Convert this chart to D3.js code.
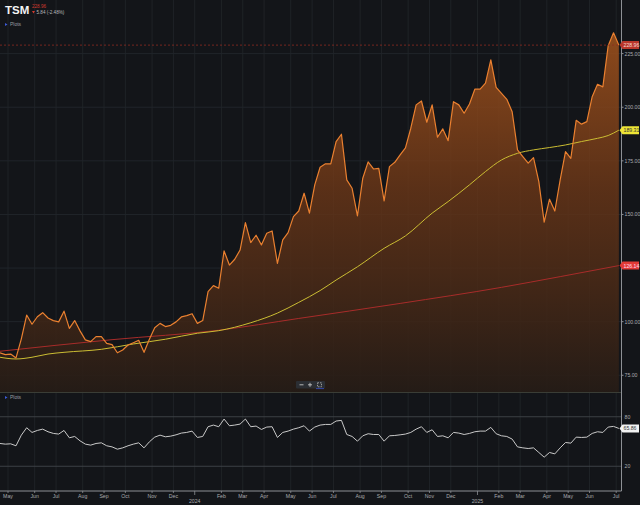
<!DOCTYPE html>
<html><head><meta charset="utf-8">
<script src="https://cdn.jsdelivr.net/npm/d3@7"></script>
<style>html,body{margin:0;padding:0;background:#131519;overflow:hidden}svg{display:block}</style>
</head><body><svg id="c" width="640" height="505"></svg>
<script>
// ---- data (weekly, week 0 = 2023-04-17) ----
const price = [85.5,84.6,84.9,83.1,92.0,103.1,98.8,102.3,104.2,101.7,100.5,99.9,104.9,96.9,100.5,95.7,91.5,90.7,93.0,93.0,
89.9,89.3,85.5,86.8,89.1,90.2,91.3,85.7,91.8,97.2,99.2,97.7,98.3,99.9,102.2,102.8,103.7,99.2,100.5,114.0,
116.8,115.6,133.0,126.4,129.1,133.4,146.2,136.9,140.3,135.8,141.2,142.3,127.2,138.1,141.5,149.0,151.6,159.9,150.6,163.8,
172.0,173.6,173.6,184.0,187.4,166.1,162.2,149.3,166.9,174.5,171.2,171.5,156.3,172.3,174.3,177.8,181.0,190.2,201.1,202.9,
193.0,201.1,186.0,189.9,184.4,202.6,201.1,197.2,201.5,208.4,208.4,211.2,222.1,209.3,206.5,203.7,197.9,180.1,177.0,173.9,
176.5,165.3,146.4,157.1,151.6,166.1,179.3,176.2,193.9,192.1,193.3,204.9,210.7,209.5,228.7,234.7,228.96];
const maFastWeeks = [0,3,6,9,12,19,25,31,37,41,47,52,56,60,63,67,72,76,81,84,88,91,94,97,100,103,106,109,112,114,116];
const maFast = [83.4,82.6,83.4,84.9,85.7,87.1,89.6,91.8,94.6,95.8,99.5,104,109,114.5,119.4,125.6,134.2,140,150.6,156,163.8,170,175.4,178.5,180.1,181.2,182.4,184,185.5,186.8,189.31];
const maSlowWeeks = [0,21,41,56,75,94,105,116];
const maSlow = [86.2,91.6,96.0,101.5,108.5,116,121,126.14];
const rsi = [47.6,46.8,47.2,44.8,57.7,66.7,61.0,63.4,65.0,61.8,59.8,59.0,63.4,54.5,56.1,50.8,46.8,45.6,47.6,48.4,
44.8,43.5,40.7,42.3,44.8,46.8,48.4,42.3,49.6,55.3,57.7,55.7,56.5,58.1,60.2,61.0,62.6,54.9,56.1,67.9,
69.9,67.9,77.2,69.1,69.9,71.1,77.2,67.9,68.7,64.6,67.5,67.9,54.9,61.0,62.6,65.0,66.7,69.1,62.6,67.5,
69.9,70.7,70.7,74.8,75.6,58.5,56.1,50.4,56.9,59.4,58.5,58.5,50.4,56.9,57.3,58.1,59.0,61.0,65.0,67.9,
61.0,64.2,56.1,56.9,54.5,61.0,60.2,58.5,59.8,61.8,62.6,62.6,67.1,59.4,56.9,56.1,52.9,43.5,42.3,41.5,
42.3,36.7,31.0,36.7,35.0,42.3,48.8,48.0,55.3,54.9,55.3,59.8,61.8,61.0,67.5,68.3,65.86];
const tickWeeks = [2,7,11,16,20,24,29,33,37,42,46,50,55,59,63,68,72,77,81,85,90,94,98,103,107,111,116];
const tickLabels = ["May","Jun","Jul","Aug","Sep","Oct","Nov","Dec","2024","Feb","Mar","Apr","May","Jun","Jul","Aug","Sep","Oct","Nov","Dec","2025","Feb","Mar","Apr","May","Jun","Jul"];
const priceTicks = [75,100,125,150,175,200,225];
const rsiTicks = [20,80];
const symbol = "TSM", lastText = "228.96", changeText = "5.84 (-2.48%)";

// ---- layout ----
const svg = d3.select("#c");
const axisX = 621.5, mainTop = 0, mainBot = 392, rsiTop = 392, rsiBot = 491;
const x = d3.scaleLinear().domain([0, 116]).range([0, 116 * 5.335]);
const y = d3.scaleLinear().domain([67.2, 250]).range([mainBot, mainTop]);
const yr = d3.scaleLinear().domain([-10, 110]).range([rsiBot, rsiTop]);
const font = "'Liberation Sans', Arial, sans-serif";

const defs = svg.append("defs");
const grad = defs.append("linearGradient").attr("id", "fill").attr("gradientUnits", "userSpaceOnUse")
  .attr("x1", 0).attr("x2", 0).attr("y1", 30).attr("y2", mainBot);
grad.append("stop").attr("offset", 0).attr("stop-color", "#a3531c").attr("stop-opacity", 0.85);
grad.append("stop").attr("offset", 0.45).attr("stop-color", "#6a3617").attr("stop-opacity", 0.8);
grad.append("stop").attr("offset", 1).attr("stop-color", "#261c16").attr("stop-opacity", 0.9);
defs.append("clipPath").attr("id", "mainClip").append("rect").attr("x", 0).attr("y", mainTop).attr("width", axisX).attr("height", mainBot - mainTop);
defs.append("clipPath").attr("id", "rsiClip").append("rect").attr("x", 0).attr("y", rsiTop).attr("width", axisX).attr("height", rsiBot - rsiTop);

// vertical month grid
svg.append("g").selectAll("line").data(tickWeeks).join("line")
  .attr("x1", d => x(d - 0.5)).attr("x2", d => x(d - 0.5)).attr("y1", 0).attr("y2", rsiBot)
  .attr("stroke", "#1f2327").attr("stroke-width", 1);
// horizontal price grid
svg.append("g").selectAll("line").data(priceTicks).join("line")
  .attr("x1", 0).attr("x2", axisX).attr("y1", d => y(d)).attr("y2", d => y(d))
  .attr("stroke", "#20252a").attr("stroke-width", 1);

// price area + line
const mg = svg.append("g").attr("clip-path", "url(#mainClip)");
mg.append("path").datum(price)
  .attr("d", d3.area().x((d, i) => x(i)).y0(mainBot).y1(d => y(d)))
  .attr("fill", "url(#fill)");
mg.append("path").datum(maSlow)
  .attr("d", d3.line().x((d, i) => x(maSlowWeeks[i])).y(d => y(d)).curve(d3.curveMonotoneX))
  .attr("fill", "none").attr("stroke", "#a82c2a").attr("stroke-width", 1);
mg.append("path").datum(maFast)
  .attr("d", d3.line().x((d, i) => x(maFastWeeks[i])).y(d => y(d)).curve(d3.curveMonotoneX))
  .attr("fill", "none").attr("stroke", "#cbbd33").attr("stroke-width", 1);
mg.append("path").datum(price)
  .attr("d", d3.line().x((d, i) => x(i)).y(d => y(d)))
  .attr("fill", "none").attr("stroke", "#ea8030").attr("stroke-width", 1.2).attr("stroke-linejoin", "round");
// last price dashed line
svg.append("line").attr("x1", 0).attr("x2", axisX).attr("y1", y(price[price.length - 1])).attr("y2", y(price[price.length - 1]))
  .attr("stroke", "#8e2c22").attr("stroke-width", 0.8).attr("stroke-dasharray", "2,2");

// panel separator
svg.append("line").attr("x1", 0).attr("x2", axisX).attr("y1", mainBot + 0.5).attr("y2", mainBot + 0.5)
  .attr("stroke", "#3a3d36").attr("stroke-width", 1);

// rsi grid
svg.append("g").selectAll("line").data(rsiTicks).join("line")
  .attr("x1", 0).attr("x2", axisX).attr("y1", d => yr(d)).attr("y2", d => yr(d))
  .attr("stroke", "#3c4045").attr("stroke-width", 1);
svg.append("g").attr("clip-path", "url(#rsiClip)").append("path").datum(rsi)
  .attr("d", d3.line().x((d, i) => x(i)).y(d => yr(d)))
  .attr("fill", "none").attr("stroke", "#c9c9c9").attr("stroke-width", 1);

// axes lines
svg.append("line").attr("x1", axisX).attr("x2", axisX).attr("y1", 0).attr("y2", rsiBot)
  .attr("stroke", "#8d9095").attr("stroke-width", 1);
svg.append("line").attr("x1", 0).attr("x2", axisX).attr("y1", rsiBot).attr("y2", rsiBot)
  .attr("stroke", "#8d9095").attr("stroke-width", 1);

// value tags positions (axis labels hidden where a tag covers them)
const tagYs = [y(price[price.length - 1]), y(maFast[maFast.length - 1]), y(maSlow[maSlow.length - 1])];
const shownTicks = priceTicks.filter(t => tagYs.every(ty => Math.abs(y(t) - ty) > 6));

// right price axis labels
svg.append("g").selectAll("text").data(shownTicks).join("text")
  .attr("x", axisX + 3).attr("y", d => y(d) + 2).text(d => d3.format(".2f")(d))
  .attr("fill", "#a9abae").attr("font-size", 5.2).attr("font-family", font);
svg.append("g").selectAll("line").data(priceTicks).join("line")
  .attr("x1", axisX).attr("x2", axisX + 2).attr("y1", d => y(d)).attr("y2", d => y(d)).attr("stroke", "#8d9095");
svg.append("g").selectAll("text").data(rsiTicks).join("text")
  .attr("x", axisX + 3).attr("y", d => yr(d) + 2).text(d => d)
  .attr("fill", "#a9abae").attr("font-size", 5.2).attr("font-family", font);

// x axis labels
const xa = svg.append("g");
tickWeeks.forEach((w, i) => {
  const lbl = tickLabels[i];
  const isYear = /^\d{4}$/.test(lbl);
  xa.append("line").attr("x1", x(w - 0.5)).attr("x2", x(w - 0.5)).attr("y1", rsiBot).attr("y2", rsiBot + (isYear ? 4 : 2))
    .attr("stroke", "#8d9095").attr("stroke-width", 0.8);
  xa.append("text").attr("x", x(w - 0.5)).attr("y", isYear ? 503 : 497.5).attr("text-anchor", "middle")
    .text(lbl).attr("fill", "#a9abae").attr("font-size", 5.2).attr("font-family", font);
});

// value tags
function tag(v, yy, bg, fg) {
  const g = svg.append("g");
  const h = 8, x0 = axisX - 2;
  g.append("path").attr("d", `M${x0},${yy} L${x0 + 3},${yy - h / 2} L639,${yy - h / 2} L639,${yy + h / 2} L${x0 + 3},${yy + h / 2} Z`).attr("fill", bg);
  g.append("text").attr("x", x0 + 4).attr("y", yy + 2).text(v).attr("fill", fg)
    .attr("font-size", 5.2).attr("font-family", font);
}
tag(lastText, tagYs[0], "#b8362a", "#f3d6d0");
tag(d3.format(".2f")(maFast[maFast.length - 1]), tagYs[1], "#eee536", "#333");
tag(d3.format(".2f")(maSlow[maSlow.length - 1]), tagYs[2], "#e23a36", "#fde");
tag(d3.format(".2f")(rsi[rsi.length - 1]), yr(rsi[rsi.length - 1]), "#f2f2f2", "#333");

// header
svg.append("text").attr("x", 5).attr("y", 14).text(symbol).attr("fill", "#f4f4f4")
  .attr("font-size", 11.5).attr("font-weight", "bold").attr("font-family", font);
svg.append("text").attr("x", 32).attr("y", 7.5).text(lastText).attr("fill", "#d23a2e")
  .attr("font-size", 4.6).attr("font-family", font);
svg.append("path").attr("d", "M32,11 L35,11 L33.5,13.5 Z").attr("fill", "#d23a2e");
svg.append("text").attr("x", 36.5).attr("y", 13.5).text(changeText).attr("fill", "#b9babd")
  .attr("font-size", 4.6).attr("font-family", font);
function plotsLabel(yy) {
  svg.append("path").attr("d", `M5,${yy - 3} L7.5,${yy - 1.5} L5,${yy} Z`).attr("fill", "#3d5bd8");
  svg.append("text").attr("x", 10).attr("y", yy).text("Plots").attr("fill", "#9a9ca0")
    .attr("font-size", 5).attr("font-family", font);
}
plotsLabel(26);
plotsLabel(399);

// zoom controls
const zc = svg.append("g");
zc.append("rect").attr("x", 296).attr("y", 381).attr("width", 29).attr("height", 7.5).attr("rx", 1).attr("fill", "#2b2e33");
zc.append("line").attr("x1", 299.5).attr("x2", 303.5).attr("y1", 384.8).attr("y2", 384.8).attr("stroke", "#c4c4c4").attr("stroke-width", 0.9);
zc.append("line").attr("x1", 308).attr("x2", 312).attr("y1", 384.8).attr("y2", 384.8).attr("stroke", "#c4c4c4").attr("stroke-width", 0.9);
zc.append("line").attr("x1", 310).attr("x2", 310).attr("y1", 382.8).attr("y2", 386.8).attr("stroke", "#c4c4c4").attr("stroke-width", 0.9);
zc.append("rect").attr("x", 317.5).attr("y", 382.8).attr("width", 4).attr("height", 4).attr("fill", "none").attr("stroke", "#c4c4c4").attr("stroke-width", 0.7).attr("stroke-dasharray", "1.5,1");
zc.append("line").attr("x1", 316).attr("x2", 324).attr("y1", 388.6).attr("y2", 388.6).attr("stroke", "#3550c8").attr("stroke-width", 0.8);
</script></body></html>
